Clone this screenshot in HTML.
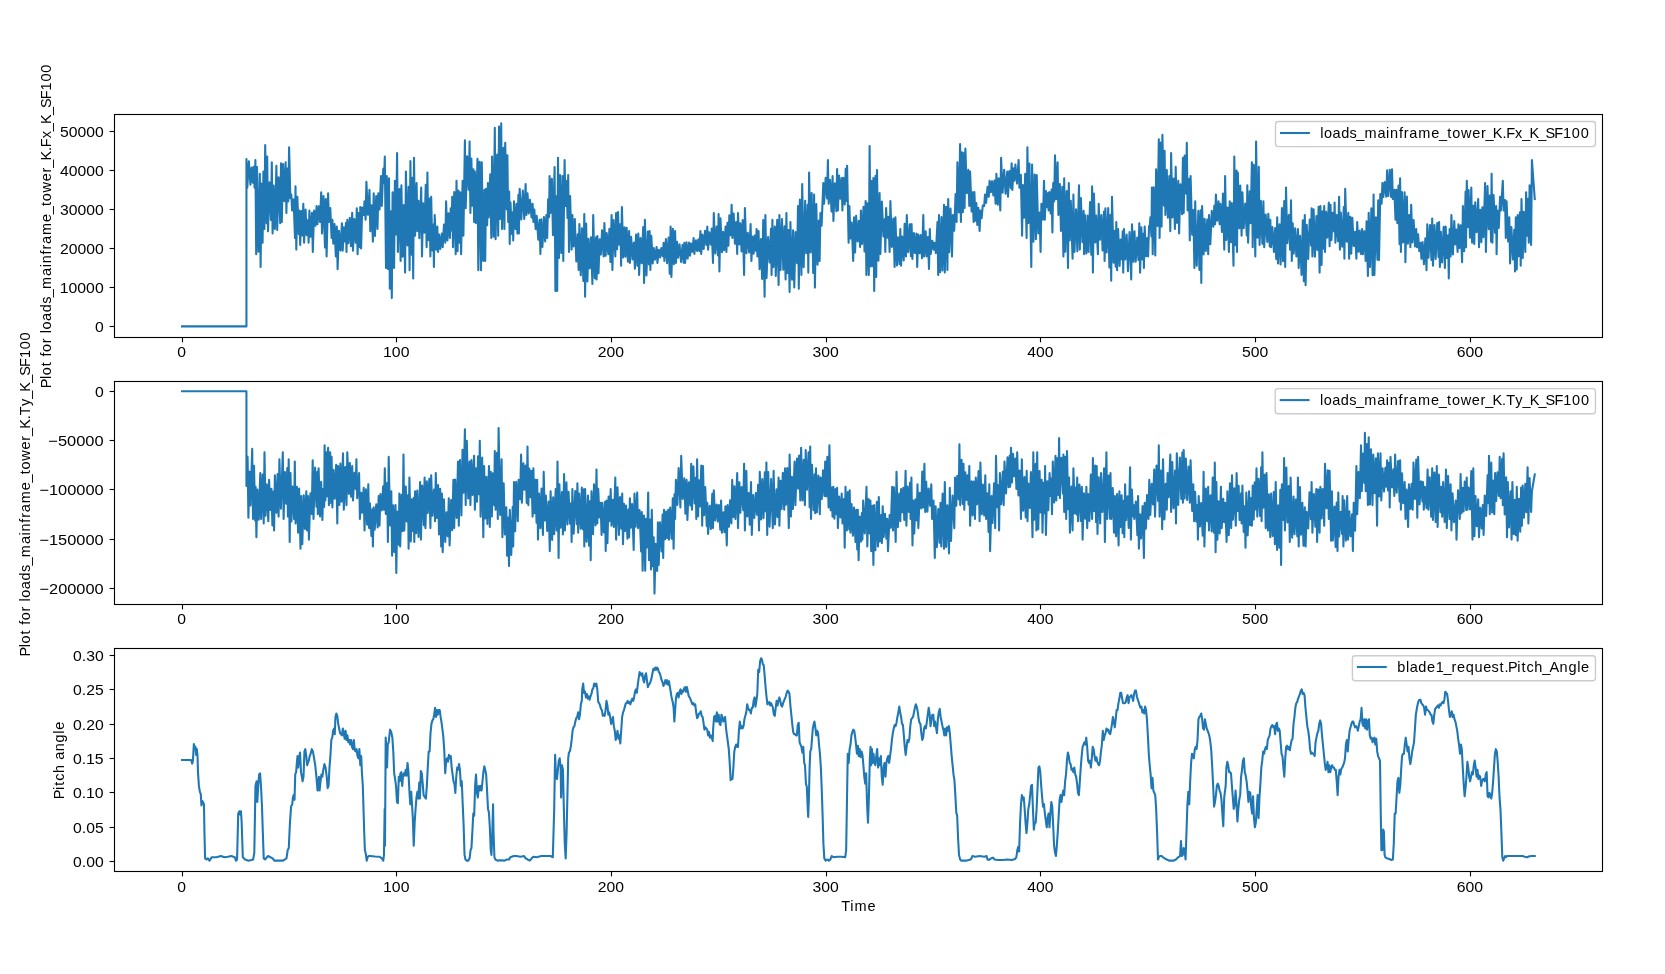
<!DOCTYPE html>
<html><head><meta charset="utf-8"><title>plot</title><style>
html,body{margin:0;padding:0;background:#fff;}
svg{display:block;will-change:transform;}
text{font-family:"Liberation Sans",sans-serif;fill:#000;}
.n{font-size:14.8px;}
.t{font-size:14.5px;}
</style></head><body>
<svg width="1665" height="974" viewBox="0 0 1665 974">
<defs><clipPath id="c0"><rect x="114.40" y="114.60" width="1488.00" height="222.59"/></clipPath><clipPath id="c1"><rect x="114.40" y="381.71" width="1488.00" height="222.58"/></clipPath><clipPath id="c2"><rect x="114.40" y="648.81" width="1488.00" height="222.59"/></clipPath></defs>
<polyline clip-path="url(#c0)" fill="none" stroke="#1f77b4" stroke-width="2.083" stroke-linejoin="round" stroke-linecap="square" points="182.04,326.40 246.44,326.40 246.44,159.00 246.50,160.00 247.30,187.60 248.87,161.31 250.43,184.76 251.63,167.54 252.81,182.59 253.73,166.86 254.60,187.60 255.40,160.00 256.20,254.20 257.00,167.00 258.45,251.70 259.80,173.80 260.60,266.90 261.59,183.59 262.60,242.70 263.40,171.50 264.40,229.00 265.20,145.00 266.63,223.22 267.20,156.50 268.00,231.20 269.59,182.23 270.99,220.02 271.80,162.30 272.60,233.50 273.61,185.46 274.87,228.90 276.40,165.70 277.20,230.00 278.64,177.32 280.19,223.33 281.00,163.40 281.80,222.00 283.02,164.16 284.37,201.09 285.60,162.30 286.40,212.90 287.48,168.62 288.30,201.40 289.10,147.30 290.36,198.22 291.30,194.50 292.10,210.50 293.57,199.24 295.02,238.08 295.50,186.40 296.30,249.60 297.33,196.68 298.83,234.31 299.40,210.50 300.20,245.00 301.43,210.95 302.34,235.53 303.30,203.70 304.10,242.70 305.58,209.52 306.64,235.27 308.10,219.95 308.60,242.70 309.40,210.50 310.64,236.69 312.00,212.90 312.80,252.00 314.11,210.58 315.48,225.80 316.60,206.00 317.40,224.30 318.92,206.32 319.99,221.85 321.20,192.20 322.00,233.50 323.48,195.97 324.96,247.41 325.80,199.00 326.60,256.50 328.10,193.30 328.90,222.00 330.28,208.13 331.60,238.00 332.40,219.70 333.30,243.71 334.50,224.06 335.84,256.50 336.80,226.60 337.60,269.20 338.96,230.75 340.46,250.54 341.90,223.20 342.70,250.80 343.84,227.26 344.88,241.53 345.95,223.08 346.50,252.00 347.30,219.70 348.38,243.19 349.77,217.77 350.93,246.11 352.20,212.90 353.00,250.80 354.22,219.16 355.71,242.72 356.80,208.30 357.60,254.20 358.81,213.02 359.79,247.12 360.30,207.00 361.10,248.50 362.22,207.50 363.70,215.00 364.50,201.40 365.60,219.70 366.40,181.80 367.84,214.82 369.50,189.90 370.30,231.20 371.62,205.20 372.90,241.60 373.70,193.30 374.95,235.97 376.19,196.14 377.50,229.00 378.30,193.30 379.55,209.58 381.00,176.00 381.80,206.00 383.24,168.88 384.00,183.00 384.80,156.50 386.00,268.00 386.80,176.00 387.98,269.01 389.00,178.40 389.80,288.70 390.79,211.40 391.80,298.00 392.60,192.20 394.10,268.00 394.90,180.70 395.96,234.38 397.10,153.00 397.90,252.00 399.48,189.00 400.60,261.00 401.40,185.30 402.67,256.62 403.84,205.07 405.10,272.60 405.90,171.50 407.49,245.37 408.64,186.78 409.60,270.30 410.40,161.00 411.57,254.83 412.48,177.81 413.20,278.40 414.00,157.70 415.10,235.67 416.60,183.00 417.40,231.20 418.45,200.79 419.36,238.28 421.20,187.60 422.00,256.50 423.08,203.23 424.41,232.59 425.75,184.86 426.60,247.30 427.40,172.60 428.32,240.25 429.48,198.61 430.40,256.50 431.20,196.80 432.26,250.35 433.43,224.53 433.90,266.90 434.70,215.00 436.20,249.60 437.30,226.60 438.10,252.00 439.20,234.44 440.28,248.90 441.90,233.50 442.70,247.30 443.98,224.65 445.30,242.70 446.10,201.40 447.43,240.52 448.46,213.18 449.90,238.00 450.70,208.30 451.71,230.37 452.20,196.80 453.00,247.30 454.26,192.09 455.70,254.20 456.50,180.70 457.59,251.11 458.53,190.65 459.56,242.71 460.30,192.20 461.10,254.20 462.60,180.70 463.40,235.80 464.90,140.40 465.70,208.30 467.16,156.22 468.65,189.79 469.60,141.60 470.40,212.90 471.38,158.50 472.35,205.69 473.43,169.23 474.10,222.00 474.90,171.50 475.87,223.09 477.50,158.80 478.30,270.30 479.62,161.76 481.00,270.30 481.80,162.30 483.18,260.86 484.40,189.90 485.20,261.00 486.11,188.86 487.17,225.20 487.90,183.00 488.70,217.40 490.22,174.41 491.30,238.00 492.10,156.50 493.58,236.71 494.80,127.80 495.60,239.30 497.17,154.49 498.20,235.80 499.00,126.60 499.99,218.91 501.20,123.20 502.00,229.00 503.51,147.86 504.40,229.00 505.20,142.70 506.75,209.36 507.40,155.40 508.20,222.00 509.18,191.56 509.70,243.90 510.50,202.50 511.84,233.98 512.76,212.21 513.20,240.40 514.00,201.40 515.54,229.00 516.60,203.70 517.40,233.50 518.41,194.78 518.90,233.50 519.70,188.70 521.28,219.37 522.84,190.54 524.27,219.04 525.60,184.00 526.40,215.00 527.49,193.34 528.78,213.51 529.98,199.72 531.56,217.40 532.60,203.70 533.40,222.00 534.34,209.48 535.63,229.05 536.71,215.70 538.27,239.59 539.60,219.70 540.40,254.00 541.35,219.32 542.39,246.99 543.98,216.97 545.14,241.41 546.40,215.00 547.20,238.00 548.13,199.41 549.09,217.16 549.60,176.00 550.40,213.00 551.86,178.77 552.96,235.12 554.60,167.00 555.40,291.00 556.39,196.35 557.20,291.00 558.00,157.70 559.02,258.04 560.06,175.11 561.31,252.86 562.50,176.00 563.30,261.00 564.60,160.00 565.40,206.00 566.45,181.06 567.54,218.05 568.20,175.00 569.00,252.00 570.11,196.14 571.60,249.60 572.40,215.00 573.56,246.52 574.81,219.09 576.30,261.41 577.77,234.23 578.60,270.00 579.40,224.00 580.77,275.26 581.97,228.24 583.32,281.01 584.30,214.00 585.10,296.80 586.14,223.55 587.42,281.47 588.41,238.83 589.79,268.38 590.94,237.27 592.40,284.00 593.20,215.00 594.79,278.16 596.02,237.40 596.60,279.50 597.40,236.00 598.48,273.28 599.71,239.33 600.88,254.39 602.06,230.19 603.60,256.50 604.40,223.00 605.63,255.83 606.73,233.03 608.30,254.15 609.40,228.87 610.45,261.98 611.60,215.00 612.40,270.00 613.58,219.95 615.30,256.50 616.10,213.00 617.12,249.19 618.05,212.08 619.09,244.74 620.50,224.10 621.10,265.70 621.90,207.00 623.28,257.44 624.47,227.31 625.58,256.68 626.67,227.86 627.94,261.59 629.10,231.00 629.90,263.00 631.09,236.68 632.55,259.53 633.85,242.66 634.89,268.74 636.06,234.54 637.35,265.65 638.30,233.50 639.10,275.00 640.50,238.08 641.70,263.16 643.20,227.06 644.10,283.00 644.90,219.70 646.44,275.57 647.87,231.62 649.02,264.39 649.60,231.00 650.40,270.00 651.30,235.83 652.71,263.37 653.81,248.12 654.89,259.70 656.60,247.00 657.40,263.00 658.83,249.76 660.24,257.54 661.33,247.94 662.79,256.10 663.60,242.70 664.40,261.00 665.93,239.13 667.10,263.18 668.62,237.54 669.71,273.75 670.60,226.60 671.40,277.00 672.85,228.69 673.86,264.12 675.10,231.00 675.90,263.00 677.05,241.72 678.10,257.68 679.54,244.38 681.06,261.88 682.51,245.06 683.70,262.82 684.30,242.70 685.10,263.00 686.52,242.32 687.64,258.56 689.07,242.66 690.03,255.66 691.16,243.53 692.28,251.82 693.60,238.00 694.40,254.00 695.92,240.37 697.11,250.93 698.34,239.42 699.33,250.99 700.40,231.00 701.20,254.00 702.41,234.52 703.65,249.04 705.04,230.80 706.36,244.92 707.30,226.60 708.10,249.60 709.23,232.38 710.80,244.55 711.73,228.46 713.00,263.00 713.80,213.00 715.33,253.52 716.70,226.51 718.01,255.38 718.60,214.00 719.40,271.50 720.46,218.21 721.99,252.26 723.02,231.84 724.13,250.09 725.60,226.60 726.40,252.00 727.45,222.91 728.40,245.70 729.35,215.32 730.83,235.31 731.60,204.80 732.40,238.00 733.67,213.60 734.92,243.79 736.12,222.02 737.20,254.00 738.00,213.00 739.25,244.53 740.32,223.30 741.55,251.51 742.71,220.08 744.10,275.00 744.90,208.00 746.41,253.32 747.75,232.83 749.16,252.50 750.60,224.00 751.40,261.00 752.49,236.52 753.66,253.62 754.69,235.52 755.83,250.70 756.60,229.00 757.40,256.50 758.55,231.11 759.61,269.13 761.05,239.16 762.11,278.90 763.25,219.97 764.60,296.80 765.40,215.00 766.56,277.86 768.09,237.01 769.64,262.53 770.95,228.82 771.60,275.00 772.40,219.70 773.37,266.90 774.87,226.53 775.77,275.96 777.21,219.67 778.60,285.00 779.40,215.00 780.50,269.90 781.99,219.10 783.30,269.75 784.52,226.30 785.60,279.50 786.40,213.00 787.45,272.92 788.42,230.07 789.60,292.00 790.40,222.00 792.00,279.75 793.11,230.37 794.27,287.37 795.53,232.13 797.06,263.19 798.00,206.00 798.80,288.70 799.88,199.60 801.40,275.00 802.20,184.00 803.66,267.12 805.16,200.85 806.20,253.30 807.67,204.67 808.30,272.60 809.10,172.60 810.58,252.42 811.65,193.10 813.22,272.97 814.10,194.50 814.90,287.60 816.30,204.00 817.54,264.83 818.82,220.52 819.60,261.00 820.40,213.00 821.60,225.59 823.30,183.00 824.10,203.70 825.65,177.72 827.06,198.37 827.90,160.00 828.70,203.70 830.06,179.77 831.52,211.35 832.60,176.00 833.40,221.00 834.84,183.28 836.34,211.15 837.10,169.00 837.90,210.50 839.10,175.66 840.24,198.69 841.60,178.00 842.40,210.50 843.36,177.91 844.76,204.52 845.69,168.86 846.30,201.00 847.10,165.70 848.60,242.70 849.40,206.00 850.52,238.55 851.65,222.47 853.20,261.00 854.00,217.40 855.11,252.57 856.13,215.89 857.64,241.51 858.86,220.82 860.10,247.00 860.90,210.50 862.07,243.92 863.50,206.78 864.50,251.57 865.60,201.00 866.40,275.00 867.43,203.32 868.80,275.00 869.60,146.00 870.73,266.44 871.71,181.14 872.69,266.17 873.40,178.00 874.20,291.00 875.51,175.71 876.20,277.00 877.00,170.00 878.43,260.79 879.60,193.00 880.40,254.00 881.87,201.47 883.41,236.50 884.81,219.09 885.30,252.00 886.10,208.00 887.47,237.67 888.40,216.72 889.60,252.00 890.40,201.00 891.86,246.88 893.32,218.52 894.60,267.00 895.40,217.40 896.95,265.49 897.96,237.19 899.50,264.06 900.30,229.00 901.10,265.70 902.19,236.52 903.72,260.52 904.63,223.67 906.00,256.50 906.80,215.00 908.25,252.30 909.75,224.21 910.90,256.23 911.60,224.00 912.40,259.00 913.86,232.94 914.95,253.05 916.40,233.50 917.20,267.00 918.25,234.55 919.65,253.30 920.63,235.08 922.00,258.27 923.30,215.00 924.10,256.50 925.68,231.19 926.59,256.47 927.90,237.15 929.00,269.00 929.80,229.00 930.75,253.97 932.32,240.74 933.60,249.60 934.40,242.70 935.89,253.00 937.47,221.94 938.20,275.00 939.00,215.00 940.10,272.18 941.51,217.07 942.44,270.54 944.00,204.80 944.80,272.60 946.12,206.79 947.40,270.00 948.20,199.00 949.19,252.13 950.55,208.66 952.00,256.50 952.80,215.00 954.21,230.76 955.60,194.13 956.60,222.00 957.40,162.30 958.95,212.44 960.10,144.00 960.90,222.00 961.93,152.28 962.86,212.23 964.12,152.88 964.60,208.00 965.40,148.50 966.82,193.17 968.32,169.87 969.30,206.00 970.10,171.50 971.60,211.44 972.64,192.22 973.60,222.00 974.40,192.00 975.43,220.79 976.35,203.04 977.28,224.92 978.33,207.87 979.60,231.00 980.40,210.50 981.63,218.21 982.77,205.49 984.20,206.00 985.00,194.50 986.11,202.80 987.55,186.79 988.80,196.80 989.60,180.70 990.91,192.08 992.02,181.22 993.35,195.48 994.40,180.66 995.60,203.70 996.40,173.80 997.76,204.79 998.75,178.32 1000.30,210.50 1001.10,157.70 1002.58,192.80 1004.15,169.67 1005.58,193.75 1007.20,171.50 1008.00,196.80 1009.38,170.95 1010.88,188.14 1011.60,163.40 1012.40,189.90 1013.31,168.40 1014.37,180.64 1015.41,164.57 1017.00,183.58 1018.60,160.00 1019.40,187.60 1020.85,174.76 1022.10,235.80 1022.90,185.00 1024.07,217.75 1025.20,173.77 1026.60,238.00 1027.40,147.30 1028.53,222.90 1029.47,163.60 1031.30,267.00 1032.10,164.60 1033.43,241.70 1034.59,174.50 1035.90,239.30 1036.70,175.00 1038.29,233.38 1039.59,212.46 1040.60,252.00 1041.40,203.70 1043.00,219.53 1044.00,180.70 1044.80,219.70 1045.91,191.10 1047.06,207.12 1048.05,193.14 1048.60,210.50 1049.40,192.00 1050.62,213.55 1051.59,189.59 1052.40,232.40 1053.20,183.00 1054.20,201.40 1055.00,155.40 1056.16,199.25 1057.60,162.30 1058.40,215.00 1059.85,184.05 1060.95,230.97 1062.30,186.68 1063.40,256.50 1064.20,178.40 1065.25,251.68 1066.68,191.02 1068.00,268.00 1068.80,183.00 1069.73,240.54 1070.78,200.67 1072.60,258.80 1073.40,194.50 1074.48,251.85 1076.07,209.28 1077.34,251.27 1079.00,185.30 1079.80,249.60 1080.88,197.92 1082.43,242.23 1083.64,210.89 1084.10,254.20 1084.90,215.00 1086.40,253.55 1087.53,215.58 1088.61,252.01 1090.05,201.97 1091.28,254.76 1092.10,186.40 1092.90,272.60 1093.96,193.66 1095.25,242.44 1096.17,215.51 1097.90,254.20 1098.70,203.70 1099.98,239.60 1101.37,215.08 1102.60,250.57 1103.97,211.65 1104.60,261.00 1105.40,208.30 1106.64,252.44 1108.20,207.95 1109.38,267.42 1110.32,215.01 1111.20,280.70 1112.00,196.80 1113.60,262.75 1114.78,230.85 1115.69,266.83 1116.30,222.00 1117.10,270.30 1118.11,229.08 1119.61,266.00 1120.68,239.43 1121.63,259.24 1122.75,231.17 1123.20,272.60 1124.00,229.00 1125.24,259.38 1126.67,234.49 1127.96,271.11 1129.54,232.16 1131.20,279.50 1132.00,224.30 1133.36,261.69 1134.51,231.21 1135.67,261.77 1137.23,237.46 1138.45,259.90 1139.30,223.20 1140.10,272.60 1141.36,227.25 1142.43,259.50 1143.47,233.91 1143.90,268.00 1144.70,226.60 1146.06,256.11 1147.30,238.00 1148.10,256.50 1149.08,225.77 1149.60,229.00 1150.40,217.40 1151.46,236.45 1151.90,187.60 1152.70,254.20 1153.74,187.27 1155.30,255.40 1156.10,169.20 1157.56,226.06 1158.80,139.30 1159.60,238.00 1160.84,142.42 1161.60,226.60 1162.40,134.70 1163.92,205.60 1164.60,150.80 1165.40,215.00 1166.78,169.97 1167.88,217.78 1169.30,176.12 1170.30,231.20 1171.10,153.00 1172.40,217.41 1173.56,178.52 1174.90,229.00 1175.70,166.90 1176.86,222.84 1178.30,180.70 1179.10,233.50 1180.48,184.41 1182.08,214.29 1182.90,157.70 1183.70,212.90 1184.68,155.61 1186.06,193.72 1186.80,142.70 1187.60,210.50 1188.91,178.82 1189.80,240.40 1190.60,176.00 1192.15,234.65 1193.35,210.06 1194.40,268.00 1195.20,201.40 1196.73,265.78 1198.32,210.90 1199.40,269.85 1200.64,210.28 1201.30,283.00 1202.10,206.00 1203.62,254.56 1204.63,218.70 1205.82,250.92 1207.18,219.48 1208.20,254.20 1209.00,215.00 1210.32,244.18 1211.78,210.91 1213.30,226.64 1214.31,205.90 1215.10,224.30 1215.90,194.50 1217.18,220.65 1218.54,201.21 1219.60,224.30 1220.40,203.70 1221.95,231.94 1222.95,193.61 1224.30,249.60 1225.10,176.00 1226.26,239.91 1227.64,207.63 1228.90,252.00 1229.70,201.40 1230.87,242.25 1231.78,202.93 1233.50,265.70 1234.30,156.50 1235.54,245.19 1236.54,170.55 1237.00,252.00 1237.80,172.60 1239.35,228.34 1240.26,185.53 1241.60,235.80 1242.40,192.20 1243.70,228.31 1245.21,203.53 1246.81,235.54 1247.30,185.30 1248.10,242.70 1249.70,191.36 1250.64,223.12 1251.90,162.30 1252.70,247.30 1253.74,164.76 1255.30,256.50 1256.10,141.60 1257.46,237.66 1258.80,166.90 1259.60,245.00 1260.87,200.80 1262.37,243.82 1263.40,201.40 1264.20,247.30 1265.70,214.63 1267.28,242.03 1268.31,213.77 1269.74,246.47 1270.30,219.70 1271.10,247.30 1272.39,226.97 1273.96,252.06 1275.19,228.02 1276.23,258.93 1277.20,217.40 1278.00,263.40 1279.55,224.23 1280.59,264.40 1281.94,208.04 1283.00,261.25 1284.23,201.02 1285.20,266.90 1286.00,187.60 1287.30,243.23 1288.84,215.13 1290.09,249.82 1291.00,200.20 1291.80,261.00 1292.71,223.38 1293.72,253.59 1295.10,228.38 1296.38,256.54 1297.90,229.00 1298.70,268.00 1300.05,235.78 1301.55,274.84 1302.81,220.37 1303.82,281.23 1304.80,215.00 1305.60,285.30 1306.73,224.73 1308.18,258.89 1309.73,219.52 1311.12,245.60 1311.60,208.30 1312.40,256.50 1313.63,209.34 1314.92,256.70 1316.41,216.05 1317.42,249.92 1318.62,206.81 1319.60,272.60 1320.40,206.00 1321.57,265.06 1322.57,211.39 1323.70,248.80 1324.20,206.00 1325.00,252.00 1326.12,211.74 1327.27,237.58 1328.80,202.50 1329.60,246.20 1330.51,204.80 1331.48,239.89 1332.63,212.79 1334.04,231.40 1334.60,202.50 1335.40,242.70 1336.72,215.09 1338.07,241.13 1339.10,196.80 1339.90,249.60 1340.83,212.57 1342.25,246.69 1343.76,207.08 1344.40,258.80 1345.20,188.70 1346.77,241.75 1348.30,212.90 1349.10,258.80 1350.30,216.90 1351.27,253.73 1352.32,217.91 1353.74,246.04 1355.12,231.70 1356.40,258.80 1357.20,222.00 1358.55,251.65 1359.70,230.61 1360.83,253.93 1362.10,229.00 1362.90,254.20 1364.26,231.20 1365.68,261.05 1366.58,221.32 1367.90,276.00 1368.70,212.90 1369.99,266.93 1371.35,208.41 1372.58,275.19 1373.60,194.50 1374.40,275.00 1375.91,217.24 1377.42,259.64 1378.20,200.20 1379.00,260.00 1380.29,194.15 1381.60,203.70 1382.40,183.00 1383.35,197.02 1384.69,181.97 1386.30,196.80 1387.10,170.30 1388.36,195.97 1389.78,169.74 1391.14,196.93 1392.00,169.20 1392.80,199.00 1394.33,189.76 1395.50,219.70 1396.30,189.90 1397.36,223.18 1398.50,185.51 1399.57,244.22 1400.10,178.40 1400.90,252.00 1401.97,192.15 1403.04,242.42 1404.60,192.20 1405.40,262.30 1406.84,196.42 1407.88,243.71 1409.18,214.94 1410.40,247.30 1411.20,204.80 1412.36,242.50 1413.62,220.13 1415.03,246.45 1416.20,229.00 1417.00,247.30 1418.12,234.25 1419.29,251.11 1420.60,242.70 1421.40,258.80 1422.62,242.10 1423.92,264.18 1425.36,238.21 1426.50,270.30 1427.30,224.30 1428.53,257.69 1430.01,225.00 1431.45,260.06 1432.20,218.60 1433.00,265.70 1434.51,225.04 1435.67,258.84 1437.24,223.05 1438.52,257.07 1439.10,222.00 1439.90,266.90 1440.85,231.79 1442.06,262.53 1443.64,226.77 1444.90,268.00 1445.70,226.60 1446.74,257.97 1447.99,235.28 1448.80,278.40 1449.60,229.00 1450.60,256.50 1451.40,215.00 1452.91,254.38 1454.27,221.03 1455.32,244.43 1456.27,229.52 1457.60,252.00 1458.40,224.30 1459.66,247.93 1460.66,225.29 1462.10,262.30 1462.90,206.00 1464.13,251.21 1465.57,191.44 1466.00,247.30 1466.80,180.70 1467.71,227.23 1468.63,190.02 1469.98,237.74 1471.30,187.60 1472.10,242.70 1473.26,205.72 1474.27,244.09 1475.24,202.37 1476.55,232.09 1478.20,199.00 1479.00,247.30 1480.18,209.75 1481.36,242.26 1482.36,207.36 1483.49,237.19 1485.10,183.00 1485.90,252.00 1487.50,185.99 1488.78,229.33 1489.82,195.61 1491.11,241.62 1491.60,173.80 1492.40,242.70 1493.59,195.01 1495.04,232.63 1496.11,206.13 1496.60,254.20 1497.40,210.50 1498.77,227.85 1500.10,196.80 1500.90,210.50 1502.80,180.70 1503.60,210.50 1505.09,200.13 1505.80,238.00 1506.60,201.40 1508.14,241.43 1509.30,217.40 1510.10,263.40 1511.39,227.10 1512.91,259.35 1514.24,229.78 1515.00,271.50 1515.80,217.40 1516.74,269.56 1517.71,214.92 1518.65,256.13 1519.95,212.36 1520.70,265.70 1521.50,199.00 1522.76,258.07 1523.67,211.72 1525.30,252.00 1526.10,192.20 1527.05,235.61 1527.99,198.88 1528.80,242.70 1529.60,185.30 1531.10,245.00 1531.90,160.00 1534.76,199.09"/>
<polyline clip-path="url(#c1)" fill="none" stroke="#1f77b4" stroke-width="2.083" stroke-linejoin="round" stroke-linecap="square" points="182.04,391.30 246.44,391.30 246.44,486.00 247.60,456.90 248.40,517.80 249.51,471.43 250.47,505.39 252.20,448.80 253.00,519.00 254.03,465.88 255.12,520.51 255.60,486.70 256.40,537.30 257.41,489.63 258.77,519.82 260.30,473.00 261.10,519.00 262.68,474.63 263.70,523.50 264.50,452.30 265.53,515.72 266.79,484.23 268.30,521.20 269.10,479.90 270.22,509.91 271.45,488.67 272.43,525.38 273.47,491.48 274.10,530.40 274.90,475.30 276.39,512.67 277.58,473.95 278.60,516.60 279.40,459.20 280.90,508.78 282.80,452.30 283.60,519.00 284.93,472.03 286.18,503.60 287.32,468.08 287.90,516.60 288.70,459.20 289.70,541.90 290.50,473.00 291.43,521.57 292.65,486.65 294.13,519.29 294.80,461.50 295.60,523.50 296.91,486.85 298.10,532.66 299.12,488.55 300.50,548.80 301.30,496.00 302.28,544.10 303.76,495.19 304.98,528.91 306.30,491.30 307.10,530.40 308.10,496.00 308.90,539.60 310.46,493.21 311.76,513.95 312.70,460.30 313.50,519.00 315.08,467.46 316.46,506.70 317.39,471.79 317.80,514.30 318.60,468.40 320.05,516.42 321.16,481.76 322.40,520.00 323.20,489.00 324.18,506.92 324.60,445.40 325.40,500.50 326.61,452.36 327.55,496.55 328.10,447.70 328.90,505.10 330.17,452.20 331.17,503.24 331.60,456.90 332.40,507.40 333.51,469.91 334.61,498.65 336.18,464.67 337.30,523.50 338.10,466.00 339.39,504.87 340.34,463.64 341.56,501.65 343.00,453.40 343.80,509.70 345.31,467.05 346.50,505.10 347.30,452.30 348.88,494.08 349.84,463.02 351.18,496.68 352.20,466.00 353.00,500.50 354.46,472.91 355.75,488.87 356.40,459.20 357.20,498.20 359.10,473.00 359.90,519.00 361.22,492.85 362.15,512.77 363.70,487.90 364.50,530.40 365.90,489.26 367.18,524.72 368.30,484.40 369.10,528.10 370.00,503.60 371.37,536.01 372.45,509.30 372.90,546.50 373.70,507.40 374.68,529.79 376.24,504.39 377.59,527.35 378.70,496.00 379.50,525.80 380.46,493.99 381.77,510.32 383.16,486.22 384.00,509.70 384.80,468.40 385.81,513.96 387.11,483.12 387.90,541.90 388.70,456.90 390.12,525.52 391.30,491.30 392.10,555.70 393.18,505.32 394.29,552.06 395.50,505.10 396.30,573.00 397.31,511.63 398.68,544.79 399.40,493.60 400.20,546.50 401.62,494.68 402.59,531.10 403.50,454.60 404.30,530.40 405.78,486.63 406.69,521.38 408.10,495.12 408.60,548.80 409.40,477.60 410.80,541.55 411.75,499.28 412.68,530.98 413.78,497.77 414.30,541.90 415.10,491.30 416.17,533.23 417.32,490.52 418.55,537.07 420.10,482.10 420.90,539.60 422.23,485.49 423.81,525.17 424.60,477.60 425.40,528.10 426.81,481.36 427.72,512.91 429.29,478.83 430.40,528.10 431.20,475.30 432.40,515.60 434.00,489.47 435.00,521.20 435.80,473.00 436.87,517.87 438.08,484.98 439.02,534.54 440.17,488.86 441.18,546.41 441.90,493.60 442.70,552.30 443.94,499.19 445.21,541.84 446.57,512.32 447.72,536.30 448.80,498.20 449.60,545.40 451.16,500.12 452.17,530.18 453.40,479.90 454.20,528.10 455.23,479.58 456.70,517.85 458.00,461.50 458.80,525.80 459.99,459.97 461.41,515.43 462.51,449.91 463.54,492.64 464.90,429.30 465.70,505.10 466.81,440.87 468.24,498.42 469.60,461.50 470.40,505.10 471.45,459.97 472.58,494.99 474.10,455.70 474.90,509.70 476.04,468.41 476.98,501.76 478.06,456.19 479.11,494.16 479.80,440.80 480.60,516.60 482.16,457.56 483.30,537.30 484.10,466.00 485.31,518.38 486.45,476.78 487.40,523.98 489.00,466.00 489.80,527.00 490.77,471.69 491.84,516.45 492.82,473.20 494.21,505.28 494.80,451.10 495.60,509.70 497.01,452.79 497.80,519.00 498.60,428.10 500.14,514.94 501.60,459.20 502.40,537.30 503.68,483.35 504.90,534.44 506.30,507.40 507.10,555.70 508.44,517.48 509.00,566.00 509.80,509.70 511.24,554.86 512.71,506.91 513.20,546.50 514.00,482.10 515.14,531.15 516.21,481.79 517.80,521.20 518.60,479.90 520.10,499.15 521.10,454.60 521.90,502.80 523.39,463.36 524.45,489.81 525.61,465.52 526.74,502.96 527.50,446.50 528.30,505.10 529.28,468.43 530.46,497.14 531.40,470.77 532.60,516.60 533.40,468.40 534.39,513.18 535.39,479.81 536.55,522.66 537.20,479.90 538.00,539.60 539.03,493.49 540.43,528.11 541.53,488.51 542.90,535.00 543.70,471.80 544.82,520.52 545.86,495.47 547.19,531.02 548.57,501.66 549.80,551.10 550.60,491.30 552.14,540.01 553.16,497.36 554.20,534.33 555.67,489.06 556.70,530.40 557.50,461.50 558.60,558.00 559.40,484.40 560.56,527.75 561.98,492.16 562.89,534.55 564.10,474.10 564.90,530.40 566.43,482.27 567.45,524.36 568.50,491.87 570.06,523.60 571.13,503.39 571.60,541.90 572.40,489.00 573.67,533.69 575.27,490.95 576.68,524.23 577.40,483.30 578.20,532.70 579.17,493.47 580.77,528.81 581.81,487.55 582.94,529.34 583.86,489.21 584.30,546.50 585.10,489.00 586.62,541.81 587.95,495.55 589.05,545.63 590.10,501.01 590.70,560.30 591.50,491.30 593.05,534.27 594.01,484.27 595.49,525.34 596.50,469.50 597.30,523.50 598.22,488.87 599.52,517.52 600.53,502.78 601.60,535.00 602.40,502.80 603.88,532.36 605.09,501.79 605.70,551.10 606.50,500.50 607.42,543.10 608.60,496.48 609.82,520.95 610.70,489.00 611.50,525.80 612.96,499.86 613.88,526.89 615.30,477.60 616.10,539.60 617.51,487.25 618.98,534.85 620.02,496.99 621.35,528.80 622.20,493.60 623.00,544.20 623.96,503.67 625.10,530.90 626.03,505.62 627.48,538.75 628.40,509.51 629.10,537.30 629.90,498.20 630.92,527.70 632.11,503.97 633.70,550.00 634.50,493.60 635.63,526.60 637.20,492.50 638.00,528.10 639.55,510.10 641.10,551.47 641.80,512.00 642.60,570.70 643.90,515.56 645.20,570.70 646.00,518.90 647.00,547.40 648.20,492.50 649.00,560.30 650.40,519.43 651.00,569.50 651.80,509.70 652.77,566.16 653.70,537.30 654.50,593.60 655.60,543.71 657.18,571.08 657.90,522.40 658.70,564.90 660.07,522.22 661.62,551.40 662.57,514.57 663.20,558.00 664.00,509.70 665.22,539.32 666.20,511.63 667.25,537.99 668.20,509.70 669.00,539.60 670.19,507.49 671.67,538.82 672.80,498.20 673.60,548.80 674.52,494.33 675.10,519.00 675.90,479.90 677.39,504.91 678.65,467.98 680.40,507.40 681.20,455.70 682.73,498.99 684.30,478.19 685.42,513.66 686.60,479.90 687.40,520.00 688.87,482.25 690.32,505.47 691.20,463.80 692.00,509.70 693.39,466.24 694.70,503.58 695.74,477.72 696.30,519.00 697.10,459.20 698.10,516.28 699.00,480.39 700.03,506.38 701.28,465.61 702.20,525.80 703.00,466.00 704.08,515.17 705.24,487.14 706.80,526.33 707.30,502.80 708.10,533.90 709.68,505.88 710.89,528.98 712.28,493.86 713.00,528.10 713.80,490.20 715.23,520.52 716.67,504.50 717.89,521.35 718.87,505.03 720.30,529.71 721.10,500.50 721.90,532.70 723.44,512.35 724.42,532.13 725.45,506.24 726.80,545.40 727.60,505.10 728.96,526.60 730.06,500.27 731.40,523.50 732.20,479.90 733.34,517.08 734.42,486.36 735.45,518.87 737.20,473.00 738.00,528.10 739.36,482.19 740.34,512.83 741.67,486.94 743.23,510.15 744.10,463.80 744.90,530.40 746.34,470.79 747.27,516.39 748.64,493.03 749.75,524.73 751.00,482.10 751.80,535.00 753.13,495.03 754.30,518.00 755.81,493.13 756.98,514.74 758.10,484.78 759.00,530.40 759.80,471.80 761.15,519.39 762.30,479.04 763.55,518.15 764.83,472.28 765.86,511.40 766.40,462.60 767.20,535.00 768.22,472.10 769.58,526.82 771.10,479.16 772.80,528.10 773.60,470.70 774.96,524.49 776.52,489.20 777.52,516.89 778.60,477.60 779.40,525.80 780.52,480.85 781.60,508.96 782.80,472.80 784.20,509.70 785.00,468.40 786.01,504.70 787.29,468.11 788.80,528.10 789.60,454.60 790.94,516.59 791.88,476.74 792.91,509.05 794.60,461.50 795.40,505.10 796.99,458.59 798.17,488.78 799.13,455.65 800.30,500.50 801.10,447.70 802.58,500.56 803.77,459.85 804.90,505.10 805.70,450.00 806.97,489.63 808.56,452.41 809.64,507.33 810.20,446.50 811.00,519.00 812.00,464.71 813.59,510.11 814.63,474.37 815.20,513.20 816.00,468.40 816.91,512.20 818.42,475.48 819.80,514.30 820.60,477.60 821.79,498.84 823.05,470.32 824.40,496.00 825.20,461.50 826.26,496.58 827.34,456.81 828.60,507.40 829.40,445.40 830.67,510.24 831.86,487.52 832.50,516.60 833.30,486.70 834.42,518.70 835.53,488.95 836.61,514.21 837.10,487.90 837.90,528.10 839.12,496.54 840.51,517.35 841.70,493.60 842.50,523.50 843.92,498.93 844.70,547.70 845.50,486.70 846.88,530.35 847.89,491.92 849.24,529.46 849.70,490.20 850.50,532.70 851.59,503.98 852.92,535.81 854.02,507.52 855.50,541.90 856.30,509.70 857.26,549.46 857.80,509.70 858.60,560.30 859.66,516.64 860.85,541.76 861.89,513.05 862.40,539.60 863.20,500.50 864.76,533.37 866.50,486.70 867.30,546.50 868.58,499.14 869.74,533.57 870.40,500.50 871.20,551.10 872.38,505.77 873.40,564.90 874.20,505.10 875.39,550.15 876.85,501.91 878.00,546.50 878.80,497.10 879.79,541.52 881.04,515.15 881.90,543.10 882.70,506.30 883.72,536.96 884.99,513.69 886.37,538.72 887.20,518.90 888.00,551.10 889.60,515.05 890.73,527.75 892.20,486.70 893.00,530.40 893.96,487.35 895.70,541.90 896.50,471.80 897.86,527.20 899.25,493.54 900.30,521.20 901.10,489.00 902.32,512.18 903.30,487.86 904.29,519.99 905.60,470.70 906.40,525.80 907.55,486.64 908.96,511.92 909.96,482.77 910.60,519.00 911.40,477.60 912.50,545.40 913.30,500.50 914.25,533.35 915.47,499.33 916.67,520.56 917.50,484.40 918.30,528.10 919.80,492.87 921.33,508.43 922.24,471.46 923.26,507.53 924.40,463.80 925.20,512.00 926.19,481.86 927.39,511.80 928.65,488.45 930.06,505.79 931.30,484.40 932.10,519.00 933.52,500.62 934.80,558.00 935.60,506.30 936.82,547.18 938.27,509.04 939.50,542.80 940.50,502.80 941.30,546.50 942.59,493.66 944.00,548.80 944.80,482.10 946.15,547.08 947.40,505.18 949.00,553.40 949.80,487.90 950.98,541.05 952.55,495.51 954.30,528.10 955.10,477.60 956.29,505.60 957.32,475.69 958.78,499.56 959.40,444.20 960.20,505.10 961.58,459.68 962.77,503.98 963.50,463.80 964.30,509.70 965.31,472.38 966.52,499.99 967.49,475.34 968.55,504.72 969.30,466.00 970.10,525.80 971.64,481.36 972.68,515.39 973.77,481.63 975.00,519.00 975.80,477.60 977.04,504.33 978.57,471.05 979.60,521.20 980.40,462.60 981.78,514.11 982.86,484.59 984.17,515.36 985.30,475.30 986.10,519.00 987.39,493.22 988.57,532.04 989.30,484.40 990.10,551.10 991.59,495.97 992.50,522.90 994.08,483.22 995.20,528.10 996.00,455.70 997.05,507.11 998.21,484.94 999.10,530.40 999.90,473.00 1001.22,504.28 1002.79,471.72 1003.70,505.10 1004.50,461.50 1006.03,493.34 1007.54,457.28 1008.62,487.15 1009.73,455.46 1010.20,486.70 1011.00,447.70 1012.01,482.39 1013.04,453.83 1014.22,476.33 1015.41,458.52 1016.40,489.00 1017.20,452.30 1018.41,495.43 1019.71,470.62 1021.00,519.00 1021.80,459.20 1023.22,510.67 1024.49,477.07 1025.71,517.42 1026.70,470.70 1027.50,521.20 1028.43,483.47 1029.79,508.06 1030.91,472.10 1032.50,537.30 1033.30,452.30 1034.30,519.69 1035.62,463.72 1036.40,530.40 1037.20,452.30 1038.27,529.23 1039.58,471.00 1040.54,512.47 1041.70,479.90 1042.50,532.70 1043.65,482.91 1044.70,513.24 1045.10,466.00 1045.90,535.00 1047.38,481.20 1048.30,510.26 1049.60,473.00 1050.40,496.00 1051.32,478.61 1052.00,514.30 1052.80,461.50 1054.13,502.55 1055.50,455.70 1056.30,500.50 1057.30,458.34 1058.31,494.97 1059.10,438.00 1059.90,498.20 1061.41,457.69 1062.98,493.74 1063.40,454.60 1064.20,512.00 1065.35,456.79 1066.20,519.00 1067.00,451.10 1068.25,509.29 1069.10,477.60 1069.90,532.70 1071.41,486.61 1072.60,530.40 1073.40,468.40 1074.82,513.49 1075.75,487.52 1076.73,514.55 1077.20,477.60 1078.00,521.20 1079.43,484.64 1080.82,521.04 1081.80,486.70 1082.60,539.60 1083.91,493.34 1085.33,518.64 1086.40,486.70 1087.20,528.10 1088.11,494.05 1089.42,520.92 1090.83,474.66 1092.10,519.00 1092.90,458.00 1094.04,511.26 1095.17,465.66 1096.11,522.26 1096.70,466.00 1097.50,533.90 1098.64,477.25 1100.20,523.50 1101.00,473.00 1102.35,512.01 1104.10,468.40 1104.90,541.90 1106.40,452.30 1107.20,519.00 1108.46,475.55 1110.06,518.81 1110.50,473.00 1111.30,519.00 1112.72,488.10 1114.00,532.70 1114.80,496.00 1116.05,536.34 1117.06,494.06 1118.60,545.40 1119.40,491.30 1120.33,527.17 1121.63,495.22 1122.63,533.33 1123.71,500.76 1124.30,537.30 1125.10,484.40 1126.01,520.11 1127.60,496.31 1128.69,527.93 1130.10,467.20 1130.90,539.60 1131.88,489.44 1133.00,516.10 1133.50,505.10 1134.30,519.00 1135.85,501.44 1137.39,535.12 1138.10,496.00 1138.90,548.80 1140.02,514.33 1141.05,538.38 1142.57,506.13 1143.90,558.00 1144.70,502.80 1145.96,528.67 1146.99,495.05 1148.50,519.00 1149.30,479.90 1150.30,514.88 1151.74,483.90 1153.03,504.39 1154.20,469.50 1155.00,516.60 1156.54,465.47 1158.08,500.91 1158.80,445.40 1159.60,516.60 1160.93,470.51 1162.20,529.30 1163.00,459.20 1164.41,519.37 1165.77,483.83 1166.80,509.70 1167.60,473.00 1168.67,497.17 1170.30,454.60 1171.10,512.00 1172.31,461.96 1173.52,508.18 1175.09,470.53 1176.00,523.50 1176.80,453.40 1178.25,505.02 1179.84,457.52 1181.26,499.02 1182.32,452.66 1182.90,502.80 1183.70,450.00 1184.61,498.56 1185.84,458.50 1187.13,500.04 1188.58,466.52 1189.80,502.80 1190.60,460.30 1192.18,511.03 1193.30,484.40 1194.10,521.20 1195.11,491.80 1196.36,521.64 1197.39,505.02 1197.90,539.60 1198.70,496.00 1199.93,526.44 1201.13,503.12 1202.71,535.61 1203.60,471.80 1204.40,546.50 1205.84,488.64 1207.17,521.31 1208.20,486.70 1209.00,530.40 1210.53,495.24 1211.72,531.48 1212.71,477.47 1214.00,532.70 1214.80,462.60 1215.60,552.30 1216.40,482.10 1217.38,539.69 1218.50,501.29 1219.72,533.42 1220.90,486.70 1221.70,528.10 1223.26,498.76 1224.16,522.20 1225.21,502.77 1226.60,541.90 1227.40,491.30 1228.78,535.26 1229.94,483.26 1231.20,528.10 1232.00,475.30 1232.95,519.69 1234.37,488.30 1235.80,525.80 1236.60,473.00 1237.56,510.96 1238.67,485.91 1239.57,520.07 1241.13,493.37 1241.60,523.50 1242.40,485.60 1243.70,531.96 1244.75,506.22 1245.50,547.70 1246.30,492.50 1247.67,535.37 1249.08,491.36 1250.05,525.32 1251.13,498.02 1251.90,525.80 1252.70,485.60 1253.70,519.49 1254.72,482.28 1255.78,509.53 1256.50,468.40 1257.30,516.60 1258.56,478.76 1260.07,515.89 1261.15,467.29 1261.60,521.20 1262.40,452.30 1263.32,507.75 1264.78,474.83 1265.70,528.10 1266.50,473.00 1267.89,530.59 1268.83,494.40 1270.30,537.30 1271.10,493.60 1272.69,536.00 1273.72,492.00 1274.90,544.20 1275.70,482.10 1277.09,550.08 1278.08,505.20 1279.38,547.61 1280.33,489.68 1281.10,564.90 1281.90,484.40 1283.39,519.93 1284.10,458.00 1284.90,530.40 1286.35,467.54 1287.45,522.46 1288.83,486.08 1289.80,541.90 1290.60,477.60 1292.15,537.61 1293.53,496.43 1294.53,534.25 1295.86,499.65 1297.25,536.20 1297.90,477.60 1298.70,546.50 1299.96,487.02 1301.01,534.71 1302.39,502.67 1303.47,545.63 1304.80,507.40 1305.60,546.50 1306.64,511.84 1308.20,528.42 1309.51,492.18 1310.91,519.13 1311.60,482.10 1312.40,532.70 1313.89,494.03 1315.33,526.67 1316.30,489.00 1317.10,541.90 1318.34,489.42 1319.60,532.70 1320.40,486.70 1321.50,518.37 1322.68,489.15 1324.20,525.80 1325.00,463.80 1326.54,508.26 1327.75,470.36 1328.80,519.00 1329.60,470.70 1331.10,540.80 1331.90,491.30 1332.88,540.48 1334.47,506.53 1335.62,546.91 1336.70,502.62 1337.50,551.10 1338.30,492.50 1339.22,536.52 1340.79,511.67 1342.10,533.85 1342.60,496.00 1343.40,546.50 1344.31,500.39 1345.87,540.66 1347.20,496.00 1348.00,539.60 1349.33,511.37 1350.49,536.31 1352.08,514.41 1352.90,551.10 1353.70,502.80 1355.07,530.72 1356.40,466.00 1357.20,514.30 1358.60,472.07 1359.85,498.14 1361.00,445.40 1361.80,491.30 1362.76,453.51 1364.27,483.03 1364.90,432.70 1365.70,491.30 1366.75,444.04 1367.90,505.10 1368.70,437.30 1369.94,504.50 1370.96,449.34 1372.50,505.10 1373.30,454.60 1374.53,493.32 1375.88,458.18 1377.10,525.80 1377.90,453.40 1379.28,496.51 1380.50,453.40 1381.30,500.50 1382.56,468.39 1384.09,491.56 1385.34,467.68 1386.30,486.70 1387.10,460.30 1388.01,490.58 1389.11,462.75 1389.70,507.40 1390.50,456.90 1391.97,487.36 1393.43,469.27 1394.30,496.00 1395.10,454.60 1396.66,492.68 1398.12,461.03 1399.64,501.35 1400.10,460.30 1400.90,509.70 1402.01,473.39 1403.27,503.09 1404.70,482.10 1405.50,519.00 1406.58,489.59 1408.10,527.00 1408.90,484.40 1410.42,508.86 1411.55,483.81 1412.70,509.70 1413.50,462.60 1414.91,498.95 1416.29,459.64 1417.30,517.80 1418.10,456.90 1419.55,504.38 1421.04,481.28 1422.42,501.41 1423.00,482.10 1423.80,509.70 1424.90,486.71 1426.48,508.28 1427.60,469.50 1428.40,509.70 1429.68,477.33 1431.19,516.71 1432.20,468.40 1433.00,520.00 1434.45,472.47 1435.67,521.90 1436.80,466.00 1437.60,527.00 1438.85,474.54 1440.38,512.13 1441.40,486.70 1442.20,516.60 1443.16,481.98 1444.67,521.86 1446.00,469.50 1446.80,528.10 1448.09,476.15 1449.49,518.96 1450.60,484.40 1451.40,530.40 1452.55,493.41 1453.99,522.22 1455.70,500.50 1456.50,539.60 1458.04,490.19 1459.80,519.00 1460.60,474.10 1461.66,513.15 1462.59,487.84 1463.59,511.52 1464.73,481.58 1466.20,510.00 1466.70,477.60 1467.50,509.70 1468.55,487.46 1470.03,509.44 1471.29,471.07 1472.50,539.60 1473.30,468.40 1474.40,536.27 1475.51,495.97 1476.82,526.25 1478.20,499.40 1479.00,537.30 1480.31,507.89 1481.75,528.41 1482.80,505.10 1483.60,535.00 1484.74,495.46 1486.18,515.88 1487.62,475.18 1488.53,503.14 1489.00,455.70 1489.80,514.30 1491.23,462.59 1492.19,512.39 1493.19,480.47 1494.30,514.30 1495.10,473.00 1496.21,500.93 1497.49,472.19 1498.90,496.00 1499.70,456.90 1500.70,498.12 1502.14,458.90 1502.80,505.10 1503.60,453.40 1504.70,514.43 1506.14,477.26 1507.00,537.30 1507.80,482.10 1508.99,527.42 1510.54,491.24 1511.60,539.60 1512.40,482.10 1513.78,534.31 1514.87,499.70 1515.93,535.17 1516.80,486.70 1517.60,540.80 1519.04,498.82 1520.22,531.81 1521.12,487.49 1521.90,525.80 1522.70,485.60 1523.91,517.79 1525.30,483.82 1526.31,512.09 1527.60,467.20 1528.40,523.50 1529.54,478.11 1531.10,512.00 1531.90,491.30 1534.76,474.43"/>
<polyline clip-path="url(#c2)" fill="none" stroke="#1f77b4" stroke-width="2.083" stroke-linejoin="round" stroke-linecap="square" points="182.04,759.95 191.09,759.95 192.24,763.63 192.93,760.64 193.85,744.09 194.77,749.15 195.46,746.85 196.15,754.90 196.84,749.15 197.53,756.05 197.99,772.14 198.91,785.93 199.83,791.68 200.75,793.98 201.44,805.47 202.13,800.87 203.05,802.02 203.97,804.32 204.43,831.91 205.11,858.34 206.49,859.49 207.87,858.34 209.48,860.64 211.78,857.20 216.38,857.20 220.98,856.05 224.43,857.20 227.87,856.74 231.32,856.05 234.77,857.20 235.92,860.64 237.07,859.49 238.22,813.52 239.37,811.22 240.29,814.67 240.98,811.22 241.67,822.71 242.82,857.20 245.11,859.49 248.56,860.64 253.16,859.49 254.31,852.60 255.46,785.93 256.61,781.33 257.30,802.02 258.22,785.93 259.14,774.44 260.06,773.29 260.98,785.93 261.90,804.32 262.82,831.91 263.74,858.34 265.11,859.49 266.95,857.20 268.10,856.05 270.40,857.20 272.70,858.34 274.31,860.64 278.45,860.64 283.05,860.64 286.49,858.34 287.64,850.30 288.79,848.00 289.94,822.71 291.09,806.62 292.24,804.32 292.93,797.43 293.62,795.13 294.54,799.72 295.23,774.44 296.15,772.14 296.84,762.94 297.53,756.05 298.22,767.54 299.14,757.20 300.06,752.60 300.98,772.14 301.90,776.74 302.59,781.33 303.51,776.74 304.43,751.45 305.34,749.15 306.26,756.05 307.18,765.24 307.87,762.94 308.79,760.64 309.71,756.05 310.63,753.75 311.78,749.15 312.93,751.45 314.08,758.34 315.23,765.24 316.38,776.74 317.53,790.53 318.22,785.93 318.91,776.74 319.60,790.53 320.52,781.33 321.44,774.44 322.36,776.74 323.28,769.84 324.43,764.09 325.57,767.54 326.72,776.74 327.64,788.23 328.56,785.93 329.48,767.54 330.40,756.05 331.32,739.95 332.24,737.66 333.16,730.76 334.08,728.46 334.77,734.21 335.46,716.97 336.38,713.52 337.30,715.82 338.22,723.86 339.14,728.46 340.06,733.06 340.98,734.21 341.90,735.36 342.82,728.46 343.74,733.06 344.66,738.80 345.57,730.76 346.49,739.95 347.41,735.36 348.33,742.25 349.25,739.95 350.17,744.55 351.09,739.95 352.01,746.85 352.93,749.15 353.85,739.95 354.77,750.30 355.69,751.45 356.61,749.15 357.53,756.05 358.45,758.34 359.37,749.15 360.29,765.24 361.21,756.05 361.90,772.14 362.82,785.93 363.51,808.92 364.20,831.91 364.89,850.30 365.80,853.75 366.72,860.64 367.64,857.20 368.56,856.05 370.40,856.05 375.00,856.51 379.60,856.74 381.90,858.34 383.28,860.64 383.97,854.90 384.66,808.92 385.00,845.70 385.69,737.66 386.38,749.15 387.07,767.54 387.76,744.55 388.68,742.25 390.06,729.61 391.21,731.91 392.36,737.66 393.28,751.45 394.20,773.29 395.11,779.03 396.03,785.93 396.95,802.02 397.87,803.17 398.79,776.74 399.71,781.33 400.40,773.29 401.32,772.14 402.24,785.93 402.93,776.74 403.85,773.29 404.77,775.59 405.69,769.84 406.61,775.59 407.53,762.94 408.45,772.14 409.37,790.53 410.29,804.32 411.21,791.68 412.13,806.62 412.82,818.11 413.74,845.70 414.66,822.71 415.57,808.92 416.49,797.43 417.41,791.68 418.33,798.57 419.25,782.48 419.94,798.57 420.86,770.99 421.78,773.29 422.70,783.63 423.62,795.13 425.00,797.43 425.92,798.57 426.84,785.93 427.76,767.54 428.68,751.45 429.60,751.45 430.52,733.06 431.44,723.86 432.36,720.41 433.28,719.26 434.20,714.67 435.11,707.77 436.03,716.97 436.95,710.07 437.87,714.67 438.79,710.07 439.71,710.07 440.63,716.97 441.55,722.71 442.47,729.61 443.39,737.66 444.31,751.45 445.23,773.29 446.15,760.64 447.07,758.34 447.99,761.79 448.91,754.90 449.83,758.34 450.75,756.05 451.67,767.54 452.59,774.44 453.51,781.33 454.43,783.63 455.34,792.83 456.26,776.74 457.18,767.54 458.10,769.84 459.02,764.09 459.94,769.84 460.86,785.93 461.78,781.33 462.70,804.32 463.62,825.01 464.54,854.90 465.46,859.49 466.84,860.64 468.22,860.64 469.60,858.34 470.52,850.30 471.44,848.00 472.36,831.91 473.28,813.52 474.20,815.82 475.11,785.93 476.03,774.44 476.95,792.83 477.87,797.43 478.79,785.93 479.71,790.53 480.63,785.93 481.55,790.53 482.47,781.33 483.39,772.14 484.31,766.39 485.23,769.84 486.15,774.44 487.07,790.53 487.99,808.92 488.91,812.37 489.83,827.31 490.75,850.30 491.44,854.90 492.36,831.91 493.05,804.32 493.51,831.91 494.43,857.20 495.34,859.49 497.64,860.64 499.94,860.18 504.54,860.64 506.84,859.49 509.14,859.49 510.29,857.20 513.74,856.05 516.03,856.05 520.63,856.74 524.08,856.05 525.69,858.34 527.53,859.49 529.83,860.64 531.67,858.34 533.28,856.74 536.72,857.20 541.32,856.05 545.92,856.05 550.52,856.05 552.82,857.20 554.20,808.92 555.11,754.90 556.03,776.74 556.95,779.03 557.87,769.84 558.79,760.64 559.71,758.34 560.63,767.54 561.09,797.43 562.01,765.24 562.93,769.84 563.85,808.92 564.77,843.40 565.69,858.34 566.61,831.91 567.53,790.53 568.22,758.34 568.91,752.60 569.83,751.45 570.75,746.85 571.67,739.95 572.59,730.76 573.51,727.31 574.43,726.16 575.34,721.56 576.26,718.11 577.18,716.97 578.10,712.37 579.02,719.26 579.94,714.67 580.86,704.32 581.78,700.87 582.24,689.38 583.16,683.63 584.08,692.83 585.00,691.68 585.92,697.43 586.84,693.98 587.76,698.57 588.68,696.28 589.60,699.72 590.52,696.28 591.44,693.98 592.36,689.38 593.28,688.23 594.20,683.63 595.00,685.93 596.38,683.63 597.30,689.38 598.22,702.02 599.14,703.17 600.06,705.47 600.98,708.92 601.90,710.07 602.82,715.82 603.74,714.67 604.66,715.82 605.57,710.07 606.49,700.87 607.41,705.47 608.33,714.67 609.25,712.37 610.17,716.97 611.09,723.86 612.01,721.56 612.93,716.97 613.85,726.16 614.77,730.76 615.69,739.95 616.61,735.36 617.53,730.76 618.45,738.80 619.37,735.36 620.29,743.40 621.21,730.76 622.13,716.97 623.05,712.37 623.97,710.07 624.89,706.62 625.80,703.17 626.72,703.17 627.64,700.87 628.56,703.17 629.48,702.02 630.40,704.32 631.32,700.87 632.24,698.57 633.16,700.87 634.08,697.43 635.00,691.68 635.92,689.38 636.84,692.83 637.76,684.78 638.68,677.89 639.60,672.14 640.52,673.29 641.44,675.59 642.36,673.29 643.28,680.18 644.20,682.48 645.11,675.59 646.03,673.29 646.95,680.18 647.87,687.08 648.79,684.78 649.71,683.63 650.63,681.33 651.55,677.89 652.47,673.29 653.39,668.69 654.31,669.84 655.23,667.54 656.15,669.84 657.07,667.54 657.99,668.69 658.91,672.14 659.83,673.29 660.75,676.74 661.67,680.18 662.59,682.48 663.51,685.93 664.43,683.63 665.34,680.18 666.26,683.63 667.18,680.18 668.10,684.78 669.02,681.33 669.94,687.08 670.86,692.83 671.78,698.57 672.70,702.02 673.62,707.77 674.31,721.56 675.00,712.37 675.92,698.57 676.84,693.98 677.76,692.83 678.68,697.43 679.60,691.68 680.52,689.38 681.44,693.98 682.36,690.53 683.28,691.68 684.20,688.23 685.11,687.08 686.03,691.68 686.95,687.08 687.87,691.68 688.79,696.28 689.71,697.43 690.63,699.72 691.55,702.02 692.47,704.32 693.39,703.17 694.31,705.47 695.23,704.32 696.15,712.37 697.07,718.11 697.99,716.97 698.91,713.52 699.83,713.52 700.75,711.22 701.67,715.82 702.59,716.97 703.51,722.71 704.43,729.61 705.34,727.31 706.26,728.46 707.18,729.61 708.10,735.36 709.02,731.91 709.94,737.66 710.86,735.36 711.78,737.66 712.70,741.10 713.16,728.46 714.08,716.97 715.00,715.82 715.92,721.56 716.84,712.37 717.76,721.56 718.68,714.67 719.60,723.86 720.52,725.01 721.44,714.67 722.36,716.97 723.28,721.56 724.20,719.26 725.11,716.97 726.03,728.46 726.95,735.36 727.87,742.25 728.79,749.15 729.71,762.94 730.63,780.18 731.55,779.03 732.47,779.03 733.39,767.54 734.31,751.45 735.23,746.85 736.15,744.55 737.07,746.85 737.99,746.85 738.91,730.76 739.83,721.56 740.75,728.46 741.67,726.16 742.59,728.46 743.51,726.16 744.43,719.26 745.34,715.82 746.26,712.37 747.18,704.32 748.10,707.77 749.02,710.07 749.94,710.07 750.86,713.52 751.78,707.77 752.70,707.77 753.62,700.87 754.54,697.43 755.46,706.62 756.38,700.87 757.30,693.98 758.22,669.84 759.14,672.14 760.06,661.79 760.98,658.34 761.90,659.49 762.82,664.09 763.74,665.24 764.66,675.59 765.57,687.08 766.49,696.28 767.41,704.32 768.33,703.17 769.25,702.02 770.17,705.47 771.09,703.17 772.01,705.47 772.93,707.77 773.85,714.67 774.77,715.82 775.69,707.77 776.61,700.87 777.53,705.47 778.45,700.87 779.37,697.43 780.29,700.87 781.21,705.47 782.13,706.62 783.05,703.17 783.97,700.87 784.89,698.57 785.80,696.28 786.72,692.83 787.64,690.53 788.56,691.68 789.48,693.98 790.40,705.47 791.32,714.67 792.24,723.86 793.16,731.91 794.08,734.21 795.00,734.21 795.92,735.36 796.84,735.36 797.76,725.01 798.68,722.71 799.60,742.25 800.52,744.55 801.44,746.85 802.36,752.60 803.28,746.85 804.20,762.94 805.00,765.24 805.92,783.63 806.84,787.08 807.76,808.92 808.22,816.97 808.91,797.43 809.60,767.54 810.29,751.45 811.21,749.15 811.90,739.95 812.82,728.46 813.74,723.86 814.43,721.56 815.34,727.31 816.26,735.36 817.18,730.76 818.10,733.06 819.02,744.55 819.94,753.75 820.86,767.54 821.78,790.53 822.70,818.11 823.39,843.40 824.31,858.34 825.69,860.64 827.53,859.49 828.91,860.64 830.29,859.49 831.67,856.05 833.51,857.20 837.18,856.74 841.78,856.74 845.23,857.20 846.15,850.30 846.84,808.92 847.76,753.75 848.68,762.94 849.60,749.15 850.52,744.55 851.44,735.36 852.36,731.91 853.28,729.61 854.20,730.76 855.11,736.51 856.03,744.55 856.95,753.75 857.87,745.70 858.79,756.05 859.71,749.15 860.63,757.20 861.55,751.45 862.47,754.90 863.39,765.24 864.31,776.74 865.23,783.63 866.15,773.29 867.07,804.32 867.99,822.71 868.91,797.43 869.83,758.34 870.52,746.85 871.21,765.24 871.90,749.15 872.59,762.94 873.51,753.75 874.43,762.94 875.34,765.24 876.26,756.05 877.18,749.15 878.10,767.54 879.02,758.34 879.94,765.24 880.86,756.05 881.78,776.74 882.70,784.78 883.62,767.54 884.54,762.94 885.46,776.74 886.38,762.94 887.30,758.34 888.22,756.05 889.14,762.94 890.06,756.05 890.98,749.15 891.90,739.95 892.82,733.06 893.74,728.46 894.66,725.01 895.57,726.16 896.49,722.71 897.41,716.97 898.33,712.37 899.25,706.62 900.17,712.37 901.09,716.97 902.01,723.86 902.93,725.01 903.85,735.36 904.77,746.85 905.69,754.90 906.61,746.85 907.53,739.95 908.45,742.25 909.37,738.80 910.29,726.16 911.21,719.26 912.13,718.11 913.05,716.97 913.97,712.37 914.89,707.77 915.80,704.32 916.72,706.62 917.64,711.22 918.56,718.11 919.48,722.71 920.40,723.86 921.32,733.06 922.24,739.95 923.16,737.66 924.08,728.46 925.00,726.16 925.92,728.46 926.84,721.56 927.76,714.67 928.68,707.77 929.60,713.52 930.52,726.16 931.44,719.26 932.36,714.67 933.28,714.67 934.20,726.16 935.11,721.56 936.03,727.31 936.95,733.06 937.87,719.26 938.79,712.37 939.71,708.92 940.63,716.97 941.55,721.56 942.47,726.16 943.39,729.61 944.31,735.36 945.23,728.46 946.15,735.36 947.07,727.31 947.99,730.76 948.91,726.16 949.83,733.06 950.75,744.55 951.67,756.05 952.59,765.24 953.51,774.44 954.43,780.18 955.34,795.13 956.26,812.37 957.18,815.82 958.10,838.80 959.02,854.90 960.17,859.49 961.32,860.64 965.92,860.64 970.52,859.49 971.44,858.34 972.36,856.05 975.11,856.74 979.71,856.05 984.31,856.74 986.61,856.05 987.53,859.49 988.91,859.95 991.21,858.34 993.05,857.66 994.43,859.49 998.10,859.95 1002.70,859.95 1007.30,859.49 1011.90,859.95 1014.89,859.03 1015.00,859.03 1016.38,857.20 1017.30,850.30 1018.22,846.85 1019.14,851.45 1020.06,822.71 1020.98,804.32 1021.90,795.13 1022.82,799.72 1023.74,797.43 1024.66,808.92 1025.57,822.71 1026.49,833.06 1027.41,822.71 1028.33,808.92 1029.25,804.32 1030.17,795.13 1031.09,785.93 1032.01,784.78 1032.93,808.92 1033.85,829.61 1034.77,822.71 1035.69,822.71 1036.61,808.92 1037.53,788.23 1038.45,767.54 1039.37,766.39 1040.29,772.14 1041.21,785.93 1042.13,797.43 1043.05,806.62 1043.97,804.32 1044.89,813.52 1045.80,820.41 1046.72,827.31 1047.64,818.11 1048.56,813.52 1049.48,827.31 1050.40,813.52 1051.32,802.02 1052.24,806.62 1053.16,825.01 1054.08,845.70 1055.00,852.60 1055.92,856.05 1056.84,845.70 1057.76,831.91 1058.68,815.82 1059.60,799.72 1060.52,795.13 1061.44,802.02 1062.36,795.13 1063.28,790.53 1064.20,795.13 1065.11,781.33 1066.03,774.44 1066.95,760.64 1067.87,752.60 1068.79,756.05 1069.71,762.94 1070.63,764.09 1071.55,769.84 1072.47,768.69 1073.39,772.14 1074.31,767.54 1075.23,774.44 1076.15,776.74 1077.07,783.63 1077.99,792.83 1078.91,795.13 1079.83,781.33 1080.75,767.54 1081.67,756.05 1082.59,746.85 1083.51,744.55 1084.43,742.25 1085.34,744.55 1086.26,737.66 1087.18,746.85 1088.10,760.64 1089.02,762.94 1089.94,760.64 1090.86,767.54 1091.78,758.34 1092.70,746.85 1093.62,749.15 1094.54,756.05 1095.46,760.64 1096.38,757.20 1097.30,761.79 1098.22,764.09 1099.14,765.24 1100.06,760.64 1100.98,751.45 1101.90,744.55 1102.82,730.76 1103.74,739.95 1104.66,735.36 1105.57,733.06 1106.49,728.46 1107.41,730.76 1108.33,729.61 1109.25,733.06 1110.17,734.21 1111.09,729.61 1112.01,723.86 1112.93,716.97 1113.85,721.56 1114.77,727.31 1115.69,719.26 1116.61,710.07 1117.53,710.07 1118.45,703.17 1119.37,698.57 1120.29,692.83 1121.21,692.83 1122.13,698.57 1123.05,703.17 1123.97,703.17 1124.89,703.17 1125.80,702.02 1126.72,697.43 1127.64,695.13 1128.56,703.17 1129.48,697.43 1130.40,696.28 1131.32,695.13 1132.24,697.43 1133.16,700.87 1134.08,693.98 1135.00,690.53 1135.92,690.53 1136.84,696.28 1137.76,699.72 1138.68,702.02 1139.60,705.47 1140.52,707.77 1141.44,706.62 1142.36,712.37 1143.28,710.07 1144.20,713.52 1145.11,706.62 1146.03,710.07 1146.95,719.26 1147.87,735.36 1148.79,753.75 1149.71,765.24 1150.63,774.44 1151.55,788.23 1152.47,777.89 1153.39,790.53 1154.31,792.83 1155.23,795.13 1156.15,808.92 1157.07,831.91 1157.99,859.49 1158.91,857.20 1159.83,856.05 1161.67,856.05 1163.51,857.66 1165.80,859.03 1169.02,860.64 1173.62,860.64 1175.92,859.49 1178.22,857.20 1180.06,856.05 1180.98,841.10 1181.90,856.05 1182.82,854.90 1183.74,848.00 1184.66,850.30 1185.57,859.49 1186.49,831.91 1187.41,804.32 1188.33,791.68 1189.25,804.32 1190.17,781.33 1191.09,762.94 1192.01,753.75 1192.93,756.05 1193.85,758.34 1194.77,749.15 1195.69,746.85 1196.61,749.15 1197.53,739.95 1198.45,719.26 1199.37,716.97 1200.29,715.82 1201.21,713.52 1202.13,719.26 1203.05,728.46 1203.97,729.61 1204.89,719.26 1205.80,723.86 1206.72,728.46 1207.64,730.76 1208.56,733.06 1209.48,736.51 1210.40,742.25 1211.32,751.45 1212.24,767.54 1213.16,785.93 1214.08,806.62 1215.00,802.02 1215.92,795.13 1216.84,785.93 1217.76,783.63 1218.68,785.93 1219.60,790.53 1220.52,792.83 1221.44,799.72 1222.36,813.52 1223.28,826.16 1224.20,797.43 1225.69,785.93 1226.38,767.54 1227.30,761.79 1228.22,765.24 1229.14,772.14 1230.06,772.14 1230.98,773.29 1231.90,785.93 1232.82,797.43 1233.74,808.92 1234.66,804.32 1235.57,790.53 1236.49,804.32 1237.41,821.56 1238.33,808.92 1239.25,799.72 1240.17,795.13 1241.09,776.74 1242.01,769.84 1242.93,760.64 1243.85,758.34 1244.77,772.14 1245.69,775.59 1246.61,781.33 1247.53,790.53 1248.45,802.02 1249.37,791.68 1250.29,792.83 1251.21,806.62 1252.13,813.52 1253.05,796.28 1253.97,818.11 1254.89,827.31 1255.80,822.71 1256.72,808.92 1257.64,795.13 1258.56,818.11 1259.48,797.43 1260.40,783.63 1261.32,767.54 1262.24,760.64 1263.16,751.45 1264.08,753.75 1265.00,749.15 1265.92,746.85 1266.84,749.15 1267.76,739.95 1268.68,737.66 1269.60,735.36 1270.52,728.46 1271.44,726.16 1272.36,725.01 1273.28,727.31 1274.20,726.16 1275.11,734.21 1276.03,725.01 1276.95,722.71 1277.87,730.76 1278.79,728.46 1279.71,730.76 1280.63,742.25 1281.55,753.75 1282.47,756.05 1283.39,767.54 1284.31,776.74 1285.23,758.34 1286.15,746.85 1287.07,745.70 1287.99,749.15 1288.91,746.85 1289.83,750.30 1290.75,744.55 1291.67,739.95 1292.59,738.80 1293.51,723.86 1294.43,716.97 1295.34,707.77 1296.26,703.17 1297.18,702.02 1298.10,698.57 1299.02,696.28 1299.94,693.98 1300.86,690.53 1301.78,689.38 1302.70,693.98 1303.62,692.83 1304.54,695.13 1305.46,707.77 1306.38,716.97 1307.30,726.16 1308.22,730.76 1309.14,737.66 1310.06,749.15 1310.98,753.75 1311.90,752.60 1312.82,753.75 1313.74,753.75 1314.66,756.05 1315.57,742.25 1316.49,737.66 1317.41,733.06 1318.33,730.76 1319.25,723.86 1320.17,720.41 1321.09,723.86 1322.01,735.36 1322.93,744.55 1323.85,753.75 1324.77,762.94 1325.69,769.84 1326.61,767.54 1327.53,761.79 1328.45,772.14 1329.37,765.24 1330.29,772.14 1331.21,767.54 1332.13,765.24 1333.05,767.54 1333.97,767.54 1334.89,769.84 1335.80,769.84 1336.72,781.33 1337.64,795.13 1338.56,776.74 1339.48,769.84 1340.40,774.44 1341.32,768.69 1342.24,767.54 1343.16,765.24 1344.08,762.94 1345.00,758.34 1345.92,744.55 1346.84,739.95 1347.76,751.45 1348.68,739.95 1349.60,730.76 1350.52,727.31 1351.44,723.86 1352.36,721.56 1353.28,721.56 1354.20,725.01 1355.11,727.31 1356.03,726.16 1356.95,727.31 1357.87,730.76 1358.79,726.16 1359.71,721.56 1360.63,719.26 1361.55,707.77 1362.47,723.86 1363.39,726.16 1364.31,719.26 1365.23,728.46 1366.15,719.26 1367.07,729.61 1367.99,721.56 1368.91,719.26 1369.83,735.36 1370.75,738.80 1371.67,737.66 1372.59,742.25 1373.51,738.80 1374.43,737.66 1375.34,744.55 1376.26,738.80 1377.18,751.45 1378.10,756.05 1379.02,758.34 1380.00,760.64 1380.69,808.92 1381.38,850.30 1382.30,850.30 1383.22,829.61 1383.91,831.91 1384.60,854.90 1385.52,857.66 1386.90,858.34 1389.20,859.03 1391.49,859.95 1392.87,859.49 1393.79,843.40 1394.71,813.52 1395.63,813.52 1396.55,797.43 1397.47,781.33 1398.39,777.89 1399.31,792.83 1400.23,785.93 1401.15,769.84 1402.07,756.05 1402.99,753.75 1403.91,753.75 1404.83,744.55 1405.75,737.66 1406.67,744.55 1407.59,751.45 1408.51,746.85 1409.43,758.34 1410.34,764.09 1411.26,758.34 1412.18,751.45 1413.10,746.85 1414.02,742.25 1414.94,728.46 1415.86,714.67 1416.78,708.92 1417.70,704.32 1418.62,700.87 1419.54,699.72 1420.46,699.72 1421.38,703.17 1422.30,704.32 1423.22,705.47 1424.14,707.77 1425.06,714.67 1425.98,706.62 1426.90,710.07 1427.82,710.07 1428.74,711.22 1429.66,712.37 1430.57,714.67 1431.49,714.67 1432.41,721.56 1433.33,723.86 1434.25,714.67 1435.17,708.92 1436.09,707.77 1437.01,706.62 1437.93,705.47 1438.85,707.77 1439.77,704.32 1440.69,705.47 1441.61,703.17 1442.53,702.02 1443.45,703.17 1444.37,699.72 1445.29,691.68 1446.21,692.83 1447.13,693.98 1448.05,700.87 1448.97,710.07 1449.89,716.97 1450.80,714.67 1451.72,711.22 1452.64,716.97 1453.56,714.67 1454.48,719.26 1455.40,721.56 1456.32,726.16 1457.24,730.76 1458.16,738.80 1459.08,744.55 1460.00,753.75 1460.92,744.55 1461.84,749.15 1462.76,767.54 1463.68,783.63 1464.60,796.28 1465.52,788.23 1466.44,776.74 1467.36,761.79 1468.28,767.54 1469.20,776.74 1470.11,781.33 1471.03,776.74 1471.95,772.14 1472.87,774.44 1473.79,765.24 1474.71,760.64 1475.63,767.54 1476.55,776.74 1477.47,769.84 1478.39,779.03 1479.31,775.59 1480.23,776.74 1481.15,785.93 1482.07,781.33 1482.99,779.03 1483.91,779.03 1484.83,781.33 1485.75,774.44 1486.67,772.14 1487.59,796.28 1488.51,797.43 1489.43,792.83 1490.34,795.13 1491.26,798.57 1492.18,792.83 1493.10,781.33 1494.02,767.54 1494.94,753.75 1495.86,749.15 1496.78,751.45 1497.70,761.79 1498.62,776.74 1499.54,797.43 1500.46,808.92 1501.38,831.91 1502.30,857.20 1503.22,860.64 1504.14,858.34 1505.06,856.05 1505.98,857.20 1506.90,856.05 1508.74,856.05 1513.33,856.05 1517.93,856.05 1522.53,856.05 1524.83,856.74 1527.13,857.20 1529.43,856.28 1531.72,856.05 1534.76,856.05"/>
<rect x="114.50" y="114.50" width="1488.00" height="223.00" fill="none" stroke="#000" stroke-width="1.111" stroke-linejoin="miter"/>
<rect x="114.50" y="381.50" width="1488.00" height="223.00" fill="none" stroke="#000" stroke-width="1.111" stroke-linejoin="miter"/>
<rect x="114.50" y="648.50" width="1488.00" height="223.00" fill="none" stroke="#000" stroke-width="1.111" stroke-linejoin="miter"/>
<line x1="182.50" y1="337.50" x2="182.50" y2="342.36" stroke="#000" stroke-width="1.111"/><text class="n" x="177.16" y="356.90" textLength="8.750" lengthAdjust="spacingAndGlyphs">0</text><line x1="396.50" y1="337.50" x2="396.50" y2="342.36" stroke="#000" stroke-width="1.111"/><text class="n" x="383.07" y="356.90" textLength="26.375" lengthAdjust="spacingAndGlyphs">100</text><line x1="611.50" y1="337.50" x2="611.50" y2="342.36" stroke="#000" stroke-width="1.111"/><text class="n" x="597.85" y="356.90" textLength="26.250" lengthAdjust="spacingAndGlyphs">200</text><line x1="826.50" y1="337.50" x2="826.50" y2="342.36" stroke="#000" stroke-width="1.111"/><text class="n" x="812.57" y="356.90" textLength="26.250" lengthAdjust="spacingAndGlyphs">300</text><line x1="1040.50" y1="337.50" x2="1040.50" y2="342.36" stroke="#000" stroke-width="1.111"/><text class="n" x="1027.29" y="356.90" textLength="26.250" lengthAdjust="spacingAndGlyphs">400</text><line x1="1255.50" y1="337.50" x2="1255.50" y2="342.36" stroke="#000" stroke-width="1.111"/><text class="n" x="1242.00" y="356.90" textLength="26.250" lengthAdjust="spacingAndGlyphs">500</text><line x1="1470.50" y1="337.50" x2="1470.50" y2="342.36" stroke="#000" stroke-width="1.111"/><text class="n" x="1456.66" y="356.90" textLength="26.375" lengthAdjust="spacingAndGlyphs">600</text>
<line x1="182.50" y1="604.50" x2="182.50" y2="609.36" stroke="#000" stroke-width="1.111"/><text class="n" x="177.16" y="623.85" textLength="8.750" lengthAdjust="spacingAndGlyphs">0</text><line x1="396.50" y1="604.50" x2="396.50" y2="609.36" stroke="#000" stroke-width="1.111"/><text class="n" x="383.07" y="623.85" textLength="26.375" lengthAdjust="spacingAndGlyphs">100</text><line x1="611.50" y1="604.50" x2="611.50" y2="609.36" stroke="#000" stroke-width="1.111"/><text class="n" x="597.85" y="623.85" textLength="26.250" lengthAdjust="spacingAndGlyphs">200</text><line x1="826.50" y1="604.50" x2="826.50" y2="609.36" stroke="#000" stroke-width="1.111"/><text class="n" x="812.57" y="623.85" textLength="26.250" lengthAdjust="spacingAndGlyphs">300</text><line x1="1040.50" y1="604.50" x2="1040.50" y2="609.36" stroke="#000" stroke-width="1.111"/><text class="n" x="1027.29" y="623.85" textLength="26.250" lengthAdjust="spacingAndGlyphs">400</text><line x1="1255.50" y1="604.50" x2="1255.50" y2="609.36" stroke="#000" stroke-width="1.111"/><text class="n" x="1242.00" y="623.85" textLength="26.250" lengthAdjust="spacingAndGlyphs">500</text><line x1="1470.50" y1="604.50" x2="1470.50" y2="609.36" stroke="#000" stroke-width="1.111"/><text class="n" x="1456.66" y="623.85" textLength="26.375" lengthAdjust="spacingAndGlyphs">600</text>
<line x1="182.50" y1="871.50" x2="182.50" y2="876.36" stroke="#000" stroke-width="1.111"/><text class="n" x="177.16" y="891.80" textLength="8.750" lengthAdjust="spacingAndGlyphs">0</text><line x1="396.50" y1="871.50" x2="396.50" y2="876.36" stroke="#000" stroke-width="1.111"/><text class="n" x="383.07" y="891.80" textLength="26.375" lengthAdjust="spacingAndGlyphs">100</text><line x1="611.50" y1="871.50" x2="611.50" y2="876.36" stroke="#000" stroke-width="1.111"/><text class="n" x="597.85" y="891.80" textLength="26.250" lengthAdjust="spacingAndGlyphs">200</text><line x1="826.50" y1="871.50" x2="826.50" y2="876.36" stroke="#000" stroke-width="1.111"/><text class="n" x="812.57" y="891.80" textLength="26.250" lengthAdjust="spacingAndGlyphs">300</text><line x1="1040.50" y1="871.50" x2="1040.50" y2="876.36" stroke="#000" stroke-width="1.111"/><text class="n" x="1027.29" y="891.80" textLength="26.250" lengthAdjust="spacingAndGlyphs">400</text><line x1="1255.50" y1="871.50" x2="1255.50" y2="876.36" stroke="#000" stroke-width="1.111"/><text class="n" x="1242.00" y="891.80" textLength="26.250" lengthAdjust="spacingAndGlyphs">500</text><line x1="1470.50" y1="871.50" x2="1470.50" y2="876.36" stroke="#000" stroke-width="1.111"/><text class="n" x="1456.66" y="891.80" textLength="26.375" lengthAdjust="spacingAndGlyphs">600</text>
<line x1="109.64" y1="326.50" x2="114.50" y2="326.50" stroke="#000" stroke-width="1.111"/><text class="n" x="94.93" y="331.90" textLength="8.750" lengthAdjust="spacingAndGlyphs">0</text><line x1="109.64" y1="287.50" x2="114.50" y2="287.50" stroke="#000" stroke-width="1.111"/><text class="n" x="59.81" y="292.89" textLength="43.875" lengthAdjust="spacingAndGlyphs">10000</text><line x1="109.64" y1="248.50" x2="114.50" y2="248.50" stroke="#000" stroke-width="1.111"/><text class="n" x="59.93" y="253.89" textLength="43.750" lengthAdjust="spacingAndGlyphs">20000</text><line x1="109.64" y1="209.50" x2="114.50" y2="209.50" stroke="#000" stroke-width="1.111"/><text class="n" x="59.93" y="214.88" textLength="43.750" lengthAdjust="spacingAndGlyphs">30000</text><line x1="109.64" y1="170.50" x2="114.50" y2="170.50" stroke="#000" stroke-width="1.111"/><text class="n" x="59.93" y="175.88" textLength="43.750" lengthAdjust="spacingAndGlyphs">40000</text><line x1="109.64" y1="131.50" x2="114.50" y2="131.50" stroke="#000" stroke-width="1.111"/><text class="n" x="59.93" y="136.87" textLength="43.750" lengthAdjust="spacingAndGlyphs">50000</text>
<line x1="109.64" y1="391.50" x2="114.50" y2="391.50" stroke="#000" stroke-width="1.111"/><text class="n" x="94.93" y="396.80" textLength="8.750" lengthAdjust="spacingAndGlyphs">0</text><line x1="109.64" y1="440.50" x2="114.50" y2="440.50" stroke="#000" stroke-width="1.111"/><text class="n" x="48.31" y="446.05" textLength="55.375" lengthAdjust="spacingAndGlyphs">−50000</text><line x1="109.64" y1="489.50" x2="114.50" y2="489.50" stroke="#000" stroke-width="1.111"/><text class="n" x="39.43" y="495.30" textLength="64.250" lengthAdjust="spacingAndGlyphs">−100000</text><line x1="109.64" y1="539.50" x2="114.50" y2="539.50" stroke="#000" stroke-width="1.111"/><text class="n" x="39.43" y="544.55" textLength="64.250" lengthAdjust="spacingAndGlyphs">−150000</text><line x1="109.64" y1="588.50" x2="114.50" y2="588.50" stroke="#000" stroke-width="1.111"/><text class="n" x="39.56" y="593.80" textLength="64.125" lengthAdjust="spacingAndGlyphs">−200000</text>
<line x1="109.64" y1="861.50" x2="114.50" y2="861.50" stroke="#000" stroke-width="1.111"/><text class="n" x="73.06" y="867.00" textLength="30.625" lengthAdjust="spacingAndGlyphs">0.00</text><line x1="109.64" y1="827.50" x2="114.50" y2="827.50" stroke="#000" stroke-width="1.111"/><text class="n" x="73.06" y="832.65" textLength="30.625" lengthAdjust="spacingAndGlyphs">0.05</text><line x1="109.64" y1="792.50" x2="114.50" y2="792.50" stroke="#000" stroke-width="1.111"/><text class="n" x="72.93" y="798.30" textLength="30.750" lengthAdjust="spacingAndGlyphs">0.10</text><line x1="109.64" y1="758.50" x2="114.50" y2="758.50" stroke="#000" stroke-width="1.111"/><text class="n" x="72.93" y="763.95" textLength="30.750" lengthAdjust="spacingAndGlyphs">0.15</text><line x1="109.64" y1="724.50" x2="114.50" y2="724.50" stroke="#000" stroke-width="1.111"/><text class="n" x="73.06" y="729.60" textLength="30.625" lengthAdjust="spacingAndGlyphs">0.20</text><line x1="109.64" y1="689.50" x2="114.50" y2="689.50" stroke="#000" stroke-width="1.111"/><text class="n" x="73.06" y="695.25" textLength="30.625" lengthAdjust="spacingAndGlyphs">0.25</text><line x1="109.64" y1="655.50" x2="114.50" y2="655.50" stroke="#000" stroke-width="1.111"/><text class="n" x="73.06" y="660.90" textLength="30.625" lengthAdjust="spacingAndGlyphs">0.30</text>
<g transform="translate(50.90,387.80) rotate(-90)"><text class="t" x="-0.45 8.90 12.65 21.64 26.57 31.23 35.90 44.62 50.09 54.63 58.38 66.89 75.55 83.98 90.67 98.90 111.92 120.53 124.44 133.30 138.20 143.70 152.71 165.75 173.50 181.71 186.67 195.39 206.55 215.29 220.00 227.22 236.81 240.59 249.50 256.68 263.90 272.73 279.80 288.61 297.42 306.26 315.10" y="0">Plot for loads_mainframe_tower_K.Fx_K_SF100</text></g>
<g transform="translate(29.90,655.50) rotate(-90)"><text class="t" x="-0.97 8.37 12.13 21.12 26.05 30.70 35.38 44.10 49.56 54.10 57.86 66.36 75.03 83.46 90.14 98.37 111.40 120.01 123.92 132.78 137.68 143.17 152.19 165.23 172.98 181.19 186.14 194.87 206.02 214.77 219.48 226.70 236.28 240.32 249.47 256.65 263.87 272.70 279.78 288.59 297.40 306.23 315.07" y="0">Plot for loads_mainframe_tower_K.Ty_K_SF100</text></g>
<g transform="translate(64.10,798.50) rotate(-90)"><text class="t" x="-0.74 8.60 12.85 17.78 25.59 34.22 38.66 47.32 56.13 64.89 68.67" y="0">Pitch angle</text></g>
<text class="t" x="841.21 850.20 854.47 867.51" y="910.80">Time</text>
<rect x="1275.50" y="121.50" width="319.96" height="25.10" rx="2.78" ry="2.78" fill="#fff" fill-opacity="0.8" stroke="#cccccc" stroke-width="1.389"/><line x1="1281.05" y1="133.00" x2="1308.83" y2="133.00" stroke="#1f77b4" stroke-width="2.083" stroke-linecap="square"/><text class="t" x="1320.22 1323.98 1332.48 1341.14 1349.58 1356.26 1364.49 1377.52 1386.12 1390.03 1398.90 1403.80 1409.29 1418.30 1431.35 1439.09 1447.30 1452.26 1460.98 1472.14 1480.88 1485.59 1492.82 1502.40 1506.19 1515.09 1522.27 1529.49 1538.32 1545.40 1554.21 1563.02 1571.85 1580.69" y="137.80">loads_mainframe_tower_K.Fx_K_SF100</text>
<rect x="1275.20" y="388.60" width="320.26" height="25.10" rx="2.78" ry="2.78" fill="#fff" fill-opacity="0.8" stroke="#cccccc" stroke-width="1.389"/><line x1="1280.75" y1="400.10" x2="1308.53" y2="400.10" stroke="#1f77b4" stroke-width="2.083" stroke-linecap="square"/><text class="t" x="1319.92 1323.68 1332.18 1340.84 1349.28 1355.96 1364.19 1377.22 1385.82 1389.73 1398.60 1403.50 1408.99 1418.00 1431.05 1438.79 1447.00 1451.96 1460.68 1471.84 1480.58 1485.29 1492.52 1502.10 1506.13 1515.29 1522.46 1529.69 1538.52 1545.59 1554.40 1563.21 1572.05 1580.88" y="404.90">loads_mainframe_tower_K.Ty_K_SF100</text>
<rect x="1352.40" y="655.80" width="243.06" height="25.00" rx="2.78" ry="2.78" fill="#fff" fill-opacity="0.8" stroke="#cccccc" stroke-width="1.389"/><line x1="1357.95" y1="667.00" x2="1385.73" y2="667.00" stroke="#1f77b4" stroke-width="2.083" stroke-linecap="square"/><text class="t" x="1397.18 1405.93 1409.70 1418.36 1427.04 1435.73 1443.62 1451.57 1457.08 1465.76 1474.57 1483.24 1491.54 1499.49 1504.42 1508.00 1517.34 1521.59 1526.52 1534.33 1542.20 1549.62 1559.58 1568.39 1577.15 1580.93" y="672.00">blade1_request.Pitch_Angle</text>
</svg>
</body></html>
